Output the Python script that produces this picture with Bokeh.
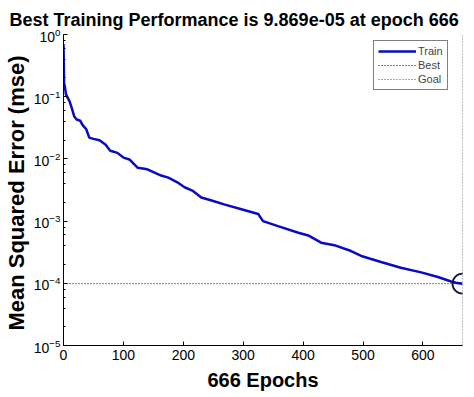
from bokeh.plotting import figure
from bokeh.models import Range1d, Legend, LegendItem, ColumnDataSource, LogTicker, FixedTicker
from bokeh.embed import file_html
from bokeh.resources import INLINE

epochs = [0, 1, 2, 3, 4, 6, 10, 14, 18, 22, 28, 32, 38, 43, 50, 60, 70, 78, 90, 100,
          110, 124, 140, 163, 175, 190, 202, 215, 230, 250, 268, 297, 325, 333, 358,
          392, 410, 430, 452, 480, 497, 530, 563, 597, 625, 647, 655, 666]
mse = [0.7, 0.16, 0.15, 0.13, 0.11, 0.1, 0.085, 0.065, 0.048, 0.043, 0.041, 0.035, 0.03,
       0.022, 0.021, 0.02, 0.017, 0.0135, 0.0125, 0.0105, 0.0098, 0.0072, 0.0068, 0.0054,
       0.0050, 0.0042, 0.0035, 0.0031, 0.0024, 0.0021, 0.00186, 0.00155, 0.0013, 0.001,
       0.00083, 0.00065, 0.00058, 0.00045, 0.00041, 0.00033, 0.000275, 0.00022, 0.000178,
       0.00015, 0.000126, 0.000107, 0.000102, 9.869e-05]
best_epoch = 666
best_perf = 9.869e-05
goal_perf = float("nan")
x_limits = [0, 666]
y_limits = [1e-5, 1]
x_ticks = [0, 100, 200, 300, 400, 500, 600]

p = figure(output_backend="svg", toolbar_location=None, y_axis_type="log",
           frame_width=399, frame_height=311,
           min_border_left=62, min_border_right=10, min_border_top=34, min_border_bottom=50,
           x_range=Range1d(*x_limits), y_range=Range1d(*y_limits))
p.outline_line_color = None
p.grid.visible = False
p.background_fill_color = "white"

p.title.text = "Best Training Performance is 9.869e-05 at epoch 666"
p.title.text_font = "Liberation Sans"
p.title.text_font_size = "18px"
p.title.text_font_style = "bold"
p.title.text_color = "black"
p.title.align = "left"
p.title.offset = -54
p.title.standoff = 10

for ax in (p.xaxis[0], p.yaxis[0]):
    ax.axis_line_color = "black"
    ax.major_tick_in = 4
    ax.major_tick_out = 0
    ax.minor_tick_in = 2
    ax.minor_tick_out = 0
    ax.major_label_text_font = "Liberation Sans"
    ax.major_label_text_font_size = "14px"
    ax.major_label_text_color = "black"
    ax.axis_label_text_font = "Liberation Sans"
    ax.axis_label_text_font_style = "bold"
    ax.axis_label_text_color = "black"

p.xaxis.major_label_standoff = 4
p.xaxis.axis_label_standoff = 6
p.yaxis.major_label_standoff = 3
p.yaxis.axis_label_standoff = 2
p.xaxis.axis_label_text_font_size = "20px"
p.yaxis.axis_label_text_font_size = "22px"
p.xaxis.ticker = FixedTicker(ticks=x_ticks)
p.xaxis.minor_tick_line_color = None
p.xaxis.axis_label = "666 Epochs"
p.yaxis.axis_label = "Mean Squared Error  (mse)"
p.yaxis.ticker = LogTicker(desired_num_ticks=6)

src = ColumnDataSource(dict(x=epochs, y=mse))
train = p.line("x", "y", source=src, line_color="#0a0ac0", line_width=2.5)
best_h = p.line(x_limits, [best_perf, best_perf], line_color="black", line_dash="1 2", line_width=1)
best_v = p.line([best_epoch, best_epoch], y_limits, line_color="black", line_dash="1 2", line_width=1)
goal = p.line(x_limits, [goal_perf, goal_perf], line_color="#555555", line_dash="1 2", line_width=1)
p.scatter([best_epoch], [best_perf], size=20, marker="circle", fill_color=None,
          line_color="#15154a", line_width=1.8)

legend = Legend(items=[LegendItem(label="Train", renderers=[train]),
                       LegendItem(label="Best", renderers=[best_h]),
                       LegendItem(label="Goal", renderers=[goal])],
                location=(310, 255))
legend.border_line_color = "black"
legend.border_line_width = 1
legend.label_text_font = "Liberation Sans"
legend.label_text_font_size = "11px"
legend.label_height = 12
legend.glyph_height = 12
legend.glyph_width = 38
legend.spacing = 2
legend.padding = 4
legend.label_standoff = 2
legend.margin = 0
p.add_layout(legend, "center")

open("out.html", "w").write(file_html(p, INLINE))
